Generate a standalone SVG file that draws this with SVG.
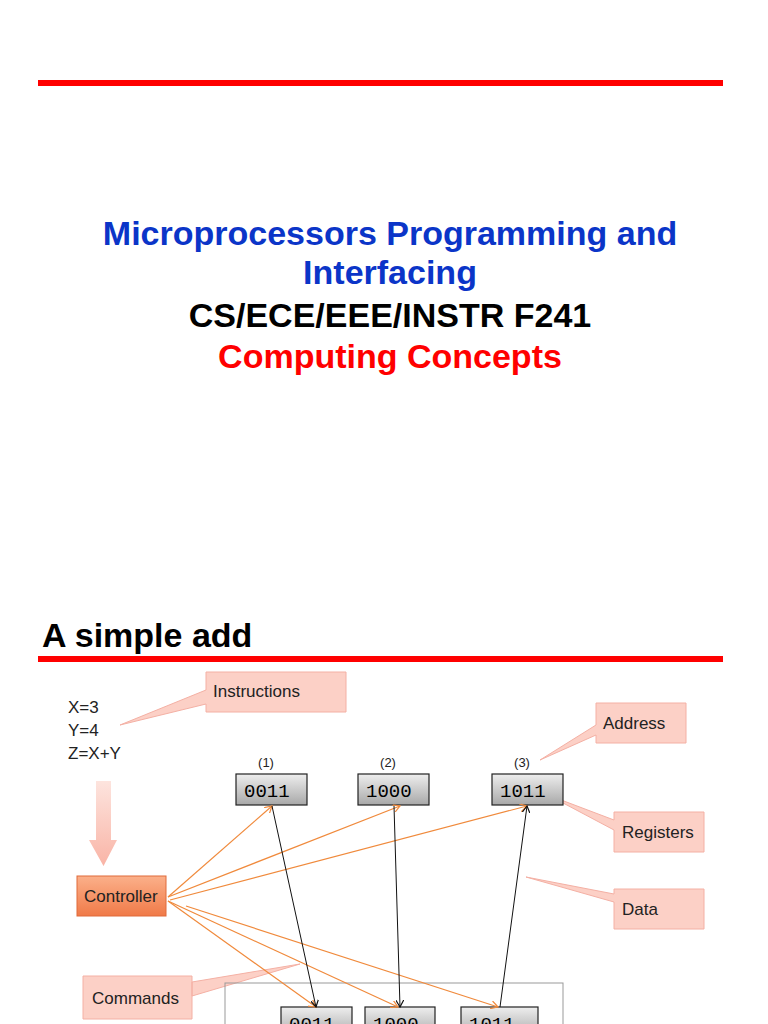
<svg xmlns="http://www.w3.org/2000/svg" width="768" height="1024" viewBox="0 0 768 1024">
<defs>
<style>
.t{font-family:"Liberation Sans",Arial,sans-serif}
.title{font-size:34px;font-weight:bold;text-anchor:middle}
.co{fill:#fcd0c6;stroke:#f4b0a4;stroke-width:1}
.ct{font-family:"Liberation Sans",Arial,sans-serif;font-size:17px;fill:#222}
.reg{fill:url(#rg);stroke:#222;stroke-width:1.2}
.rt{font-family:"Liberation Mono","Courier New",monospace;font-size:19px;fill:#000}
.or{stroke:#f08a3c;stroke-width:1.2;fill:none;marker-end:url(#ao)}
.bk{stroke:#111;stroke-width:1;fill:none;marker-end:url(#ab)}
</style>
<linearGradient id="rg" x1="0" y1="0" x2="0" y2="1"><stop offset="0" stop-color="#eeeeee"/><stop offset="1" stop-color="#a8a8a8"/></linearGradient>
<linearGradient id="cg" x1="0" y1="0" x2="0" y2="1"><stop offset="0" stop-color="#fbb08a"/><stop offset="1" stop-color="#f07a48"/></linearGradient>
<linearGradient id="pg" x1="0" y1="0" x2="0" y2="1"><stop offset="0" stop-color="#fde4de"/><stop offset="1" stop-color="#f9b4a6"/></linearGradient>
<marker id="ao" markerWidth="8" markerHeight="8" refX="7" refY="4" orient="auto" markerUnits="userSpaceOnUse"><path d="M0,0 L7,4 L0,8" fill="none" stroke="#f08a3c" stroke-width="1.2"/></marker>
<marker id="ab" markerWidth="8" markerHeight="8" refX="7" refY="4" orient="auto" markerUnits="userSpaceOnUse"><path d="M0,0 L7,4 L0,8" fill="none" stroke="#111" stroke-width="1.2"/></marker>
</defs>
<rect width="768" height="1024" fill="#fff"/>
<rect x="38" y="80" width="685" height="6" fill="#f00"/>
<g class="t title">
<text x="390" y="245" fill="#0b35c8">Microprocessors Programming and</text>
<text x="390" y="284" fill="#0b35c8">Interfacing</text>
<text x="390" y="327" fill="#000">CS/ECE/EEE/INSTR F241</text>
<text x="390" y="368" fill="#f00">Computing Concepts</text>
</g>
<text x="42" y="647" class="t" font-size="34" font-weight="bold">A simple add</text>
<rect x="38" y="656" width="685" height="6" fill="#f00"/>
<g class="ct"><text x="68" y="713">X=3</text><text x="68" y="736">Y=4</text><text x="68" y="759">Z=X+Y</text></g>
<g id="arrowbig"><path d="M96,781 H111 V840 H117 L103.5,866 L89,840 H96 Z" fill="url(#pg)"/></g>
<g id="instructions"><path d="M206,672 H346 V712 H206 V704 L120,725 L206,690 Z" class="co"/><text x="213" y="697" class="ct">Instructions</text></g>
<g id="address"><path d="M596,703 H686 V743 H596 V735 L540,760 L596,725 Z" class="co"/><text x="603" y="729" class="ct">Address</text></g>
<g id="registers"><path d="M614,812 H704 V852 H614 V830 L548,795 L614,820 Z" class="co"/><text x="622" y="838" class="ct">Registers</text></g>
<g id="data"><path d="M614,889 H704 V929 H614 V902 L526,877 L614,894 Z" class="co"/><text x="622" y="915" class="ct">Data</text></g>
<g id="commands"><path d="M83,976 H192 V1019 H83 Z M192,982 L300,964 L192,996 Z" class="co"/><text x="92" y="1004" class="ct">Commands</text></g>
<g class="t" font-size="13" text-anchor="middle" fill="#222"><text x="266" y="767">(1)</text><text x="388" y="767">(2)</text><text x="522" y="767">(3)</text></g>
<rect x="225" y="983" width="338" height="60" fill="none" stroke="#999" stroke-width="1"/>
<g id="r1"><rect x="236" y="774" width="71" height="31" class="reg"/><text x="244" y="797" class="rt">0011</text></g>
<g id="r2"><rect x="358" y="774" width="71" height="31" class="reg"/><text x="366" y="797" class="rt">1000</text></g>
<g id="r3"><rect x="492" y="774" width="71" height="31" class="reg"/><text x="500" y="797" class="rt">1011</text></g>
<g id="controller"><rect x="77" y="876" width="89" height="40" fill="url(#cg)" stroke="#e06a3a"/><text x="84" y="902" class="ct">Controller</text></g>
<g id="m1"><rect x="281" y="1007" width="71" height="30" class="reg"/><text x="289" y="1030" class="rt">0011</text></g>
<g id="m2"><rect x="365" y="1007" width="70" height="30" class="reg"/><text x="373" y="1030" class="rt">1000</text></g>
<g id="m3"><rect x="461" y="1007" width="77" height="30" class="reg"/><text x="469" y="1030" class="rt">1011</text></g>
<g id="connectors">
<path class="or" d="M168,897 L272,806"/>
<path class="or" d="M168,897 L400,806"/>
<path class="or" d="M170,900 L527,806"/>
<path class="or" d="M168,901 L316,1007"/>
<path class="or" d="M168,901 L398,1007"/>
<path class="or" d="M186,906 L498,1007"/>
<path class="bk" d="M272,806 L316,1007"/>
<path class="bk" d="M394,806 L400,1007"/>
<path class="bk" d="M500,1007 L527,806"/>
</g>
</svg>
